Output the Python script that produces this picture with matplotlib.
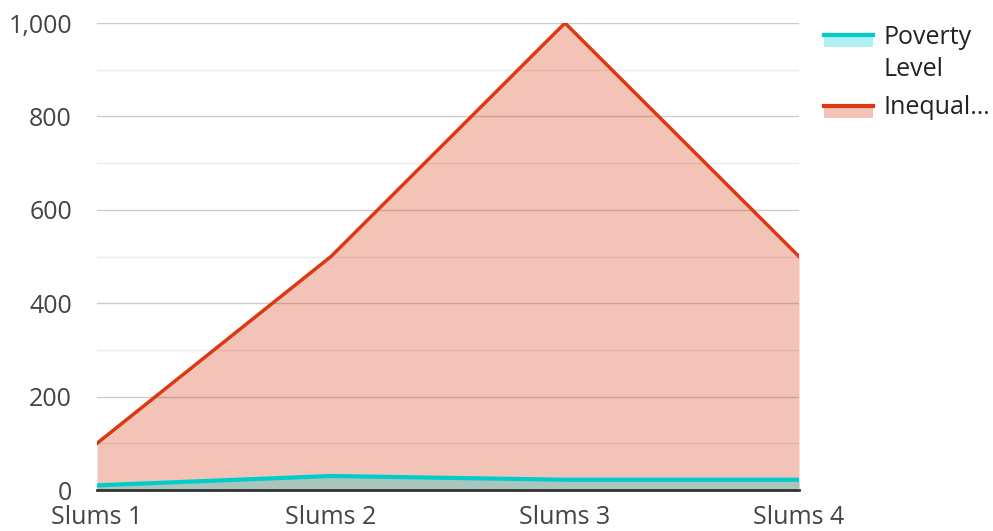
import matplotlib
matplotlib.use("Agg")
import matplotlib.pyplot as plt
from matplotlib.lines import Line2D
from matplotlib.patches import Rectangle
from matplotlib.ticker import FuncFormatter, MultipleLocator

plt.rcParams['font.family'] = ['Open Sans', 'DejaVu Sans']

categories = ["Slums 1", "Slums 2", "Slums 3", "Slums 4"]
poverty = [10, 30, 22, 22]
inequality = [100, 500, 1000, 500]

red = "#dc3912"
cyan = "#00cccc"

fig = plt.figure(figsize=(9.93, 5.31), dpi=100)
ax = fig.add_axes([97/993, 1-490/531, (799-97)/993, (490-23)/531])

x = list(range(len(categories)))
ax.fill_between(x, 0, inequality, color=red, alpha=0.3, lw=0, zorder=2)
ax.plot(x, inequality, color=red, lw=2.5, zorder=4)
ax.fill_between(x, 0, poverty, color=cyan, alpha=0.3, lw=0, zorder=3)
ax.plot(x, poverty, color=cyan, lw=3, zorder=5)

ax.set_xlim(0, 3)
ax.set_ylim(0, 1000)
ax.set_xticks(x)
ax.set_xticklabels(categories)
ax.yaxis.set_major_locator(MultipleLocator(200))
ax.yaxis.set_minor_locator(MultipleLocator(100))
ax.yaxis.set_major_formatter(FuncFormatter(lambda v, p: f"{int(v):,}"))
ax.grid(True, which='major', axis='y', color="#cccccc", lw=1, zorder=1)
ax.grid(True, which='minor', axis='y', color="#ebebeb", lw=1, zorder=1)
ax.set_axisbelow(True)
for s in ['top', 'right', 'left']:
    ax.spines[s].set_visible(False)
ax.spines['bottom'].set_color("#333333")
ax.spines['bottom'].set_linewidth(2)
ax.spines['bottom'].set_zorder(6)
ax.tick_params(axis='both', which='both', length=0, labelsize=18, colors="#444444")
ax.tick_params(axis='x', pad=11)
ax.tick_params(axis='y', pad=18)

# legend on the right
def px(xp, yp):
    return xp/993, 1-yp/531

for (y_line, color, lines) in [(35, cyan, ["Poverty", "Level"]), (106, red, ["Inequal\u2026"])]:
    x0, y0 = px(824, y_line)
    x1, y1 = px(873, y_line + 12)
    fig.add_artist(Rectangle((x0, y1), x1-x0, y0-y1, transform=fig.transFigure,
                             color=color, alpha=0.3, lw=0))
    fig.add_artist(Line2D([x0, x1], [y0, y0], transform=fig.transFigure, color=color, lw=3))
    for i, t in enumerate(lines):
        tx, ty = px(883, y_line + 2 + i*32)
        fig.text(tx, ty, t, fontsize=18, color="#222222", va='center', ha='left')

fig.savefig("out.png", dpi=100)
